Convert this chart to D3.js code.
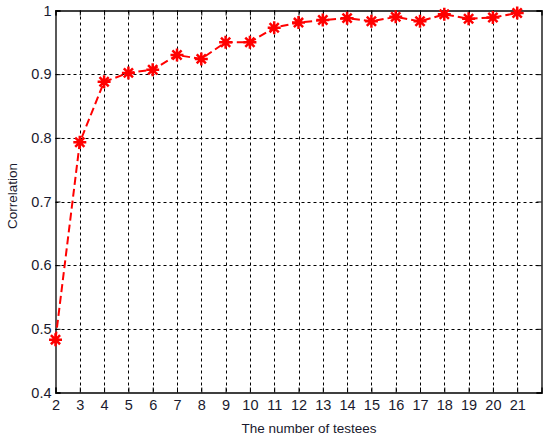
<!DOCTYPE html>
<html><head><meta charset="utf-8">
<script src="https://cdn.jsdelivr.net/npm/d3@7/dist/d3.min.js"></script>
<style>body{margin:0;background:#fff}svg{display:block}</style>
</head><body>
<svg id="c" width="550" height="440"></svg>
<script>
const xValues = [2,3,4,5,6,7,8,9,10,11,12,13,14,15,16,17,18,19,20,21];
const corr = [0.483,0.793,0.888,0.902,0.907,0.930,0.924,0.950,0.950,0.973,0.981,0.985,0.988,0.983,0.990,0.983,0.994,0.987,0.989,0.996];
const xTicks = [2,3,4,5,6,7,8,9,10,11,12,13,14,15,16,17,18,19,20,21];
const yTicks = [0.4,0.5,0.6,0.7,0.8,0.9,1];
const xTitle = "The number of testees";
const yTitle = "Correlation";

const svg = d3.select("#c");
const L=55.5, R=541.5, T=10.5, B=392.5;
const x = d3.scaleLinear().domain([2,22]).range([L,R]);
const y = d3.scaleLinear().domain([0.4,1]).range([B,T]);
const font = "Liberation Sans, Arial, sans-serif";

// grid
const g = svg.append("g");
g.selectAll(".gx").data(xTicks.filter(d=>d>2)).enter().append("line")
 .attr("x1",d=>Math.round(x(d))+0.5).attr("x2",d=>Math.round(x(d))+0.5).attr("y1",T).attr("y2",B)
 .attr("stroke","#000").attr("stroke-width",1).attr("stroke-dasharray","3,3");
g.selectAll(".gy").data(yTicks.filter(d=>d>0.4&&d<1)).enter().append("line")
 .attr("y1",d=>Math.round(y(d))+0.5).attr("y2",d=>Math.round(y(d))+0.5).attr("x1",L).attr("x2",R)
 .attr("stroke","#000").attr("stroke-width",1).attr("stroke-dasharray","3,3");

// axes
const xa = svg.append("g").attr("transform",`translate(0,${B})`)
 .call(d3.axisBottom(x).tickValues(xTicks).tickSize(-5).tickPadding(7).tickFormat(d3.format("d")));
const xt = svg.append("g").attr("transform",`translate(0,${T})`)
 .call(d3.axisTop(x).tickValues(xTicks).tickSize(-5).tickFormat(""));
const ya = svg.append("g").attr("transform",`translate(${L},0)`)
 .call(d3.axisLeft(y).tickValues(yTicks).tickSize(-5).tickPadding(4).tickFormat(d=>d===1?"1":d3.format(".1f")(d)));
const yr = svg.append("g").attr("transform",`translate(${R},0)`)
 .call(d3.axisRight(y).tickValues(yTicks).tickSize(-5).tickFormat(""));
[xa,xt,ya,yr].forEach(a=>{
  a.selectAll("path").attr("stroke","#000").attr("stroke-width",1.3);
  a.selectAll("line").attr("stroke","#000").attr("stroke-width",1);
  a.selectAll("text").attr("font-family",font).attr("font-size",14.5).attr("fill","#1a1a2e");
});

// line
svg.append("path").datum(xValues.map((d,i)=>[d,corr[i]]))
 .attr("d",d3.line().x(d=>x(d[0])).y(d=>y(d[1])))
 .attr("fill","none").attr("stroke","#ff0000").attr("stroke-width",2).attr("stroke-dasharray","8,4");

// star markers
const star = (cx,cy,r)=>{
  let p="";
  for(let k=0;k<4;k++){
    const a=k*Math.PI/4;
    p+=`M${cx-r*Math.cos(a)},${cy-r*Math.sin(a)}L${cx+r*Math.cos(a)},${cy+r*Math.sin(a)}`;
  }
  return p;
};
svg.append("g").selectAll("path").data(xValues).enter().append("path")
 .attr("d",(d,i)=>star(x(d),y(corr[i]),6.5))
 .attr("stroke","#ff0000").attr("stroke-width",2.5).attr("fill","none");

// titles
svg.append("text").attr("x",309).attr("y",433).attr("text-anchor","middle")
 .attr("font-family",font).attr("font-size",13.5).attr("fill","#1a1a2e").text(xTitle);
svg.append("text").attr("transform",`translate(17,196) rotate(-90)`).attr("text-anchor","middle")
 .attr("font-family",font).attr("font-size",13.5).attr("fill","#1a1a2e").text(yTitle);
</script>
</body></html>
